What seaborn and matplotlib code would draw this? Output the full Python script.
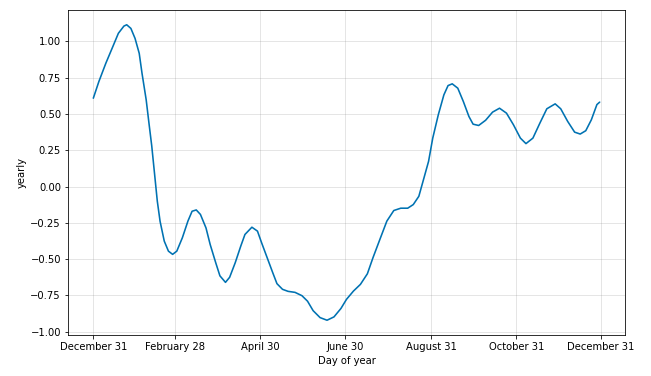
import pandas as pd
import seaborn as sns
import matplotlib
matplotlib.use("Agg")
import matplotlib.pyplot as plt

# --- data (days since Jan 1, yearly component) ---
day_offsets = [0, 4, 9, 14, 18, 22, 24, 27, 30, 33, 35, 38, 40, 42, 44, 46, 48,
               51, 54, 57, 60, 64, 68, 71, 74, 77, 81, 84, 88, 91, 95, 98, 102,
               106, 109, 114, 118, 121, 125, 129, 132, 136, 140, 145, 150, 154,
               158, 163, 168, 173, 178, 182, 187, 192, 197, 201, 206, 211, 216,
               221, 226, 230, 234, 237, 241, 244, 248, 252, 255, 258, 262, 266,
               270, 273, 277, 282, 287, 292, 297, 302, 307, 311, 316, 321, 326,
               332, 336, 341, 346, 350, 354, 358, 362, 364]
yearly = [0.609, 0.724, 0.850, 0.964, 1.056, 1.106, 1.115, 1.090, 1.021, 0.918,
          0.781, 0.598, 0.437, 0.280, 0.090, -0.101, -0.240,
          -0.376, -0.445, -0.467, -0.445, -0.353, -0.238, -0.170, -0.161,
          -0.192, -0.285, -0.399, -0.525, -0.615, -0.660, -0.625, -0.525,
          -0.410, -0.330, -0.280, -0.307, -0.388, -0.491, -0.594, -0.669,
          -0.708, -0.722, -0.729, -0.752, -0.790,
          -0.855, -0.903, -0.921, -0.898, -0.840, -0.777, -0.720, -0.674,
          -0.601, -0.491, -0.364, -0.238, -0.165,
          -0.149, -0.149, -0.124, -0.067, 0.036, 0.174, 0.334, 0.495, 0.632,
          0.696, 0.708, 0.678, 0.586,
          0.483, 0.430, 0.421, 0.457, 0.513, 0.540, 0.506, 0.426, 0.334, 0.296,
          0.334, 0.437, 0.536,
          0.570, 0.536, 0.449, 0.375, 0.362, 0.385, 0.460, 0.565, 0.582]

tick_dates = ["2017-01-01", "2017-03-01", "2017-05-01", "2017-07-01",
              "2017-09-01", "2017-11-01", "2018-01-01"]
tick_labels = ["December 31", "February 28", "April 30", "June 30",
               "August 31", "October 31", "December 31"]

df = pd.DataFrame({
    "ds": pd.Timestamp("2017-01-01") + pd.to_timedelta(day_offsets, unit="D"),
    "yearly": yearly,
})

fig = plt.figure(figsize=(651 / 72, 376 / 72), dpi=72, facecolor="w")
ax = fig.add_axes([68 / 651, 41 / 376, 557 / 651, 325 / 376])

sns.lineplot(data=df, x="ds", y="yearly", color="#0072B2", linewidth=1.6,
             solid_joinstyle="round", solid_capstyle="round", ax=ax)

ax.grid(True, which="major", c="gray", ls="-", lw=1, alpha=0.2)
ax.set_xticks(pd.to_datetime(tick_dates))
ax.set_xticklabels(tick_labels)
ax.set_xlabel("Day of year")
ax.set_ylabel("yearly")

fig.savefig("out.png", dpi=72, facecolor="w")
